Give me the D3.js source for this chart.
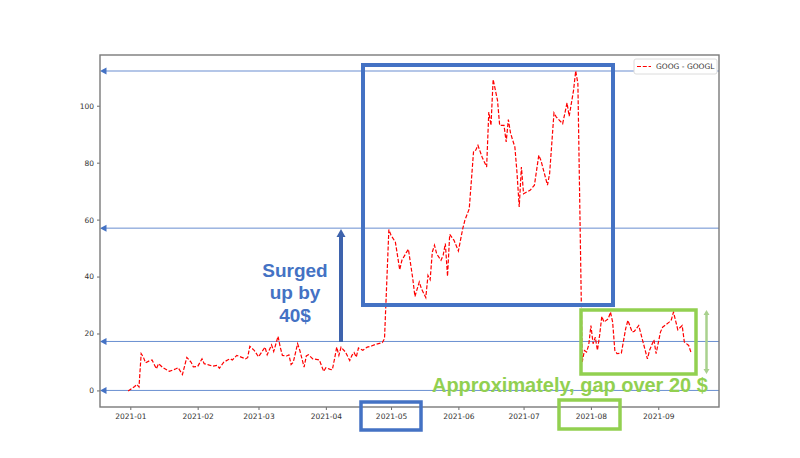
<!DOCTYPE html>
<html>
<head>
<meta charset="utf-8">
<script src="https://cdn.jsdelivr.net/npm/d3@7"></script>
<style>
  body { margin: 0; background: #fff; }
  svg text { font-family: "DejaVu Sans", sans-serif; }
</style>
</head>
<body>
<script>
// GOOG minus GOOGL close price spread
const dates = [
  '2020-12-31','2021-01-03','2021-01-04','2021-01-05','2021-01-06','2021-01-07','2021-01-08','2021-01-10',
  '2021-01-11','2021-01-13','2021-01-14','2021-01-16','2021-01-19','2021-01-22','2021-01-23','2021-01-25',
  '2021-01-27','2021-01-29','2021-01-30','2021-02-01','2021-02-03','2021-02-04','2021-02-06','2021-02-08',
  '2021-02-10','2021-02-11','2021-02-13','2021-02-15','2021-02-16','2021-02-17','2021-02-19','2021-02-21',
  '2021-02-23','2021-02-24','2021-02-25','2021-02-27','2021-03-01','2021-03-04','2021-03-05','2021-03-07',
  '2021-03-08','2021-03-10','2021-03-11','2021-03-12','2021-03-14','2021-03-15','2021-03-16','2021-03-17',
  '2021-03-19','2021-03-20','2021-03-22','2021-03-23','2021-03-24','2021-03-26','2021-03-29','2021-03-31',
  '2021-04-01','2021-04-03','2021-04-04','2021-04-05','2021-04-06','2021-04-07','2021-04-08','2021-04-10',
  '2021-04-12','2021-04-13','2021-04-14','2021-04-15','2021-04-16','2021-04-18','2021-04-20','2021-04-22',
  '2021-04-24','2021-04-27','2021-04-28','2021-04-30','2021-05-01','2021-05-03','2021-05-05','2021-05-06',
  '2021-05-08','2021-05-09','2021-05-11','2021-05-12','2021-05-14','2021-05-15','2021-05-17','2021-05-18',
  '2021-05-19','2021-05-20','2021-05-21','2021-05-22','2021-05-24','2021-05-25','2021-05-26','2021-05-27',
  '2021-05-28','2021-05-30','2021-06-01','2021-06-03','2021-06-04','2021-06-06','2021-06-08','2021-06-09',
  '2021-06-10','2021-06-12','2021-06-14','2021-06-15','2021-06-16','2021-06-17','2021-06-19','2021-06-20',
  '2021-06-22','2021-06-23','2021-06-24','2021-06-25','2021-06-26','2021-06-27','2021-06-28','2021-06-29',
  '2021-06-30','2021-07-01','2021-07-04','2021-07-06','2021-07-08','2021-07-09','2021-07-12','2021-07-13',
  '2021-07-15','2021-07-16','2021-07-19','2021-07-21','2021-07-22','2021-07-24','2021-07-25','2021-07-26',
  '2021-07-28','2021-07-29','2021-07-30','2021-07-31','2021-08-01','2021-08-02','2021-08-03','2021-08-04',
  '2021-08-05','2021-08-06','2021-08-07','2021-08-09','2021-08-10','2021-08-11','2021-08-12','2021-08-13',
  '2021-08-15','2021-08-17','2021-08-18','2021-08-20','2021-08-21','2021-08-23','2021-08-24','2021-08-27',
  '2021-08-28','2021-08-30','2021-08-31','2021-09-02','2021-09-03','2021-09-06','2021-09-07','2021-09-08',
  '2021-09-10','2021-09-12','2021-09-13','2021-09-15','2021-09-16'
];
const spread = [
  -0.2, 1.4, 2.1, 1.2, 12.9, 11.7, 9.7, 10.5,
  10.7, 7.6, 9.4, 8.0, 6.7, 7.6, 8.0, 5.6,
  11.6, 9.9, 8.3, 8.4, 11.1, 9.4, 9.0, 8.5,
  8.8, 7.8, 9.9, 10.8, 11.1, 10.7, 12.3, 11.7,
  11.1, 11.5, 15.5, 14.1, 11.8, 15.2, 12.5, 16.0,
  13.7, 19.0, 15.2, 12.3, 12.1, 12.5, 9.1, 9.9,
  16.4, 14.1, 8.2, 12.1, 12.5, 11.1, 10.7, 6.7,
  8.0, 7.4, 7.3, 11.1, 15.2, 12.3, 15.2, 13.5,
  10.5, 12.3, 13.3, 11.7, 14.9, 14.1, 15.2, 15.6,
  16.2, 16.8, 18.2, 56.5, 54.5, 52.1, 42.4, 45.7,
  48.4, 49.6, 39.3, 33.0, 38.1, 35.7, 32.6, 40.4,
  38.9, 48.6, 51.0, 48.0, 45.7, 47.5, 51.6, 40.1,
  54.8, 52.7, 49.0, 56.8, 59.8, 63.8, 84.1, 84.4,
  86.1, 81.8, 78.5, 97.8, 93.1, 109.2, 101.9, 93.1,
  93.1, 87.3, 95.1, 90.4, 87.9, 85.5, 76.2, 64.4,
  78.5, 69.1, 70.3, 72.1, 82.6, 80.8, 72.1, 76.2,
  97.5, 96.1, 93.7, 101.0, 96.3, 105.4, 112.2, 107.8,
  10.0, 14.0, 13.5, 16.0, 22.8, 16.4, 18.7, 14.1,
  19.3, 26.0, 24.0, 25.2, 27.5, 24.0, 14.1, 12.9,
  13.1, 21.7, 24.6, 20.5, 20.8, 22.8, 19.9, 11.1,
  14.1, 17.8, 12.9, 20.5, 22.2, 24.0, 24.8, 27.5,
  21.3, 22.8, 17.0, 15.8, 13.5
];
const seriesName = 'GOOG - GOOGL';
const levels = [112.2, 57, 17.2, 0];           // blue guide lines
const yTicks = [0, 20, 40, 60, 80, 100];
const monthTicks = ['2021-01','2021-02','2021-03','2021-04','2021-05','2021-06','2021-07','2021-08','2021-09'];
const surgeLines = ['Surged', 'up by', '40$'];
const gapNote = 'Approximately, gap over 20 $';

const W = 800, H = 458;
const margin = {left: 100, top: 55, right: 81, bottom: 51};
const iw = W - margin.left - margin.right,
      ih = H - margin.top - margin.bottom;

const parse = d3.timeParse('%Y-%m-%d');
const data = dates.map((d, i) => ({date: parse(d), v: spread[i]}));

// matplotlib style 5% padding
const tExt = d3.extent(data, d => +d.date);
const vExt = d3.extent(data, d => d.v);
const tPad = (tExt[1] - tExt[0]) * 0.05,
      vPad = (vExt[1] - vExt[0]) * 0.05;

const x = d3.scaleTime()
    .domain([new Date(tExt[0] - tPad), new Date(tExt[1] + tPad)])
    .range([0, iw]);
const y = d3.scaleLinear()
    .domain([vExt[0] - vPad, vExt[1] + vPad])
    .range([ih, 0]);

const svg = d3.select('body').append('svg')
    .attr('width', W)
    .attr('height', H);

const g = svg.append('g')
    .attr('transform', 'translate(' + margin.left + ',' + margin.top + ')');

// axes
const xAxis = g.append('g')
    .attr('transform', 'translate(0,' + ih + ')')
    .call(d3.axisBottom(x)
      .tickValues(monthTicks.map(d3.timeParse('%Y-%m')))
      .tickFormat(d3.timeFormat('%Y-%m'))
      .tickSize(3)
      .tickPadding(4));
const yAxis = g.append('g')
    .call(d3.axisLeft(y)
      .tickValues(yTicks)
      .tickSize(3)
      .tickPadding(3));

[xAxis, yAxis].forEach(function(a) {
  a.select('.domain').remove();
  a.selectAll('line').attr('stroke', '#444').attr('stroke-width', 0.8);
  a.selectAll('text').attr('fill', '#333').style('font-size', '7.5px');
});

// guide lines with left arrowheads
const guide = g.append('g');
levels.forEach(function(lv) {
  const yy = y(lv);
  guide.append('line')
      .attr('x1', 2).attr('x2', iw)
      .attr('y1', yy).attr('y2', yy)
      .attr('stroke', '#4472c4')
      .attr('stroke-opacity', 0.8)
      .attr('stroke-width', 1);
  guide.append('path')
      .attr('d', `M 0 ${yy} L 6.5 ${yy - 3.5} L 6.5 ${yy + 3.5} Z`)
      .attr('fill', '#4472c4');
});

// series
const line = d3.line()
    .x(d => x(d.date))
    .y(d => y(d.v));

g.append('path')
    .datum(data)
    .attr('d', line)
    .attr('fill', 'none')
    .attr('stroke', '#ff0000')
    .attr('stroke-width', 1.2)
    .attr('stroke-dasharray', '4,1.8');

// frame
g.append('rect')
    .attr('width', iw)
    .attr('height', ih)
    .attr('fill', 'none')
    .attr('stroke', '#7a7a7a')
    .attr('stroke-width', 1.4);

// legend
const leg = g.append('g')
    .attr('transform', 'translate(' + (iw - 85) + ',4)');
leg.append('rect')
    .attr('width', 83).attr('height', 15).attr('rx', 2)
    .attr('fill', '#fff')
    .attr('stroke', '#dcdcdc');
leg.append('line')
    .attr('x1', 3).attr('x2', 17)
    .attr('y1', 7.5).attr('y2', 7.5)
    .attr('stroke', '#ff0000')
    .attr('stroke-width', 1.2)
    .attr('stroke-dasharray', '4,1.8');
leg.append('text')
    .attr('x', 22).attr('y', 7.5)
    .attr('dy', '0.35em')
    .attr('fill', '#333')
    .style('font-size', '7.5px')
    .text(seriesName);

// annotations (slide overlay)
const note = svg.append('g');

function box(x0, y0, x1, y1, color, w) {
  note.append('rect')
      .attr('x', x0).attr('y', y0)
      .attr('width', x1 - x0).attr('height', y1 - y0)
      .attr('fill', 'none')
      .attr('stroke', color)
      .attr('stroke-width', w);
}

box(363, 65, 613, 305, '#4472c4', 4);
box(361, 402, 421, 430, '#4472c4', 3.5);
box(581, 310, 696, 374, '#92d050', 3.5);
box(559, 400, 620, 429, '#92d050', 3.5);

// surge arrow
note.append('line')
    .attr('x1', 341).attr('x2', 341)
    .attr('y1', 342).attr('y2', 236)
    .attr('stroke', '#3e63ad')
    .attr('stroke-width', 4);
note.append('path')
    .attr('d', 'M 341 229 L 345.5 237 L 336.5 237 Z')
    .attr('fill', '#3e63ad');

// gap marker
note.append('line')
    .attr('x1', 706.5).attr('x2', 706.5)
    .attr('y1', 313).attr('y2', 371)
    .attr('stroke', '#a9d18e')
    .attr('stroke-width', 2.5);
note.append('path')
    .attr('d', 'M 706.5 310 L 709.5 315 L 703.5 315 Z M 706.5 374 L 709.5 369 L 703.5 369 Z')
    .attr('fill', '#a9d18e');

note.selectAll('.surge')
  .data(surgeLines)
  .enter().append('text')
    .attr('class', 'surge')
    .attr('x', 295)
    .attr('y', (d, i) => 277 + i * 22.3)
    .attr('text-anchor', 'middle')
    .attr('fill', '#4472c4')
    .style('font-family', '"Liberation Sans", Arial, sans-serif')
    .style('font-weight', 'bold')
    .style('font-size', '19px')
    .text(d => d);

const gapText = note.append('text')
    .attr('x', 432)
    .attr('y', 392)
    .attr('fill', '#92d050')
    .style('font-family', '"Liberation Sans", Arial, sans-serif')
    .style('font-weight', 'bold')
    .style('font-size', '19px')
    .text(gapNote);
// shrink to the width it has on the slide
const gw = gapText.node().getComputedTextLength();
gapText.style('font-size', (19 * 276 / gw).toFixed(2) + 'px');
</script>
</body>
</html>
